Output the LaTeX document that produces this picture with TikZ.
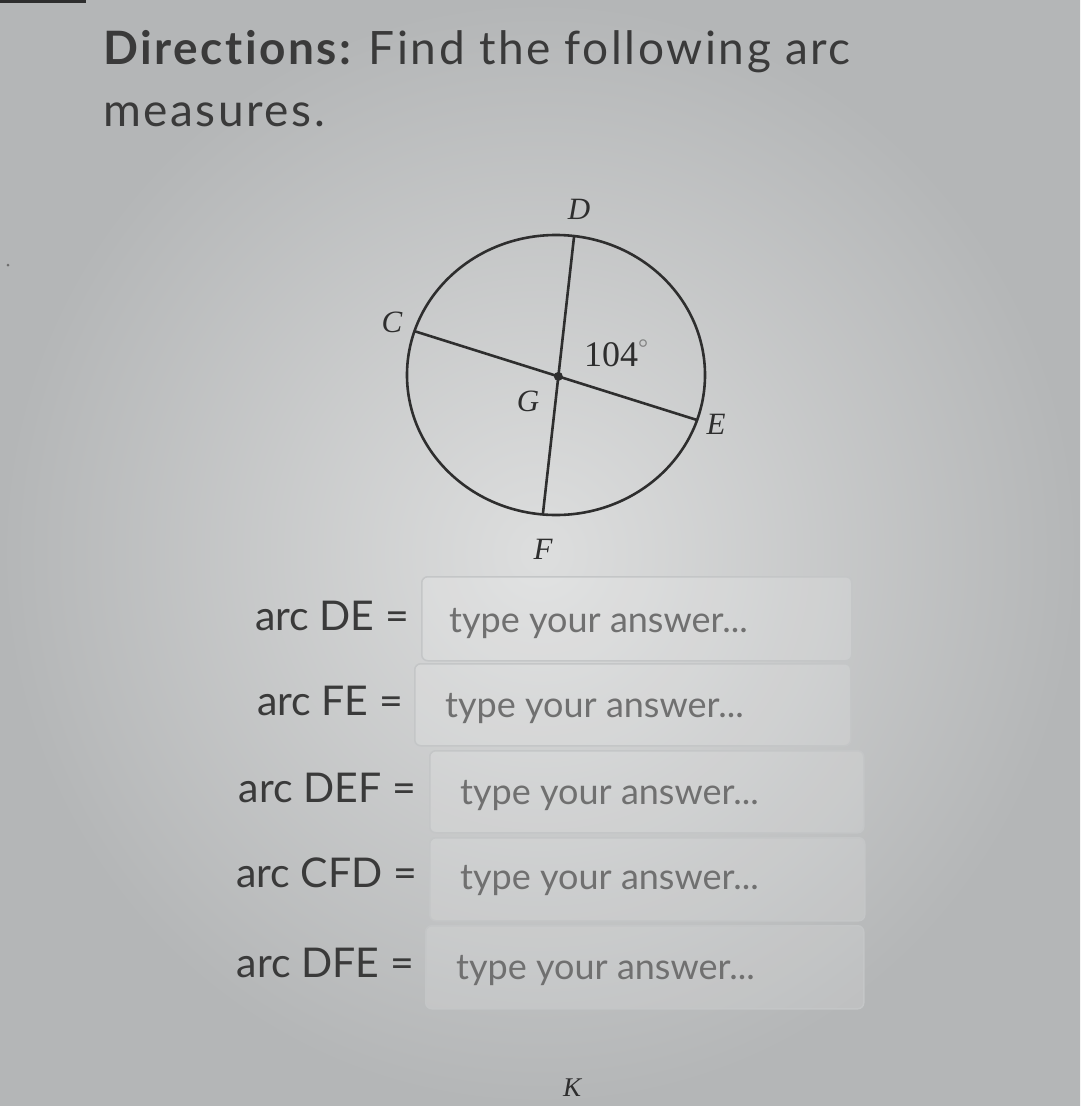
\documentclass[tikz,border=0pt]{standalone}
\usepackage{fontspec}
\setmainfont{Lato}[Ligatures={TeX,NoCommon}]
\newfontfamily\titlefont{Lato}[Ligatures={TeX,NoCommon}, LetterSpace=5.5]
\newfontfamily\geofont{Liberation Serif}
\definecolor{bgmid}{HTML}{DDDEDE}
\definecolor{bgedge}{HTML}{B4B6B7}
\definecolor{ink}{HTML}{3A3A3A}
\definecolor{hintgray}{HTML}{707070}
\definecolor{boxline}{HTML}{C4C6C7}
\definecolor{penline}{HTML}{2E2E2E}
\begin{document}
\begin{tikzpicture}[x=1pt,y=-1pt,
    answerbox/.style={draw=boxline, line width=1.5pt, rounded corners=6pt,
      fill=white, fill opacity=0.15, anchor=north west, inner sep=0pt},
    arclabel/.style={text=ink, anchor=base east, inner sep=0pt,
      font=\fontsize{41}{44}\selectfont},
    hint/.style={text=hintgray, anchor=base west, inner sep=0pt,
      font=\fontsize{36}{38}\selectfont},
    geoline/.style={draw=penline, line width=2.6pt},
    pointlabel/.style={text=penline, inner sep=0pt,
      font=\geofont\itshape\fontsize{31}{33}\selectfont}]

    \useasboundingbox (0,0) rectangle (1080,1106);
    \shade[inner color=bgmid, outer color=bgedge] (0,0) rectangle (1080,1106);
    \fill[penline] (0,0) rectangle (86,3);
    \fill[penline!70] (8,265) circle (1.5pt);

    % title
    \node[text=ink, anchor=base west, inner sep=0pt,
      font=\titlefont\fontsize{46}{50}\selectfont] (title) at (103,64)
      {\textbf{Directions:}\hspace{-4pt} Find the following arc};
    \node[text=ink, anchor=base west, inner sep=0pt,
      font=\titlefont\fontsize{46}{50}\selectfont] (title2) at (103,126) {measures.};

    % circle with two diameters
    \coordinate (O) at (556,375);
    \coordinate (C) at (414,331);
    \coordinate (D) at (574,237);
    \coordinate (E) at (697,420);
    \coordinate (F) at (543,513);
    \coordinate (G) at (intersection of C--E and D--F);

    \draw[geoline] (O) ellipse [x radius=149pt, y radius=140pt];
    \draw[geoline] (C) -- (E);
    \draw[geoline] (D) -- (F);
    \fill[penline] (G) circle (4.5pt);

    \node[pointlabel] (labD) at (579,209) {D};
    \node[pointlabel] (labC) at (392,322) {C};
    \node[pointlabel] (labE) at (716,424) {E};
    \node[pointlabel] (labF) at (543,549) {F};
    \node[pointlabel] (labG) at (528,401) {G};
    \node[text=penline, inner sep=0pt, anchor=base west,
      font=\geofont\fontsize{36}{38}\selectfont] (angle) at (584,366)
      {104\textsuperscript{\color{penline!60}°}};

    % answer rows
    \node[answerbox, minimum width=430pt, minimum height=84pt] (boxDE) at (421,576) {};
    \node[answerbox, minimum width=436pt, minimum height=82pt] (boxFE) at (414,663) {};
    \node[answerbox, minimum width=434pt, minimum height=82pt] (boxDEF) at (429,750) {};
    \node[answerbox, minimum width=435pt, minimum height=83pt] (boxCFD) at (429,837) {};
    \node[answerbox, minimum width=438pt, minimum height=83pt] (boxDFE) at (425,925) {};

    \node[arclabel] (arcDE) at (409,630) {arc DE =};
    \node[arclabel] (arcFE) at (403,715) {arc FE =};
    \node[arclabel] (arcDEF) at (416,802) {arc DEF =};
    \node[arclabel] (arcCFD) at (417,887) {arc CFD =};
    \node[arclabel] (arcDFE) at (414,977) {arc DFE =};

    \node[hint] (hintDE) at (449,632) {type your answer...};
    \node[hint] (hintFE) at (445,717) {type your answer...};
    \node[hint] (hintDEF) at (460,804) {type your answer...};
    \node[hint] (hintCFD) at (460,889) {type your answer...};
    \node[hint] (hintDFE) at (456,979) {type your answer...};

    % next item
    \node[pointlabel, anchor=south, font=\geofont\itshape\fontsize{27}{29}\selectfont]
      (labK) at (572,1097) {K};
\end{tikzpicture}
\end{document}
